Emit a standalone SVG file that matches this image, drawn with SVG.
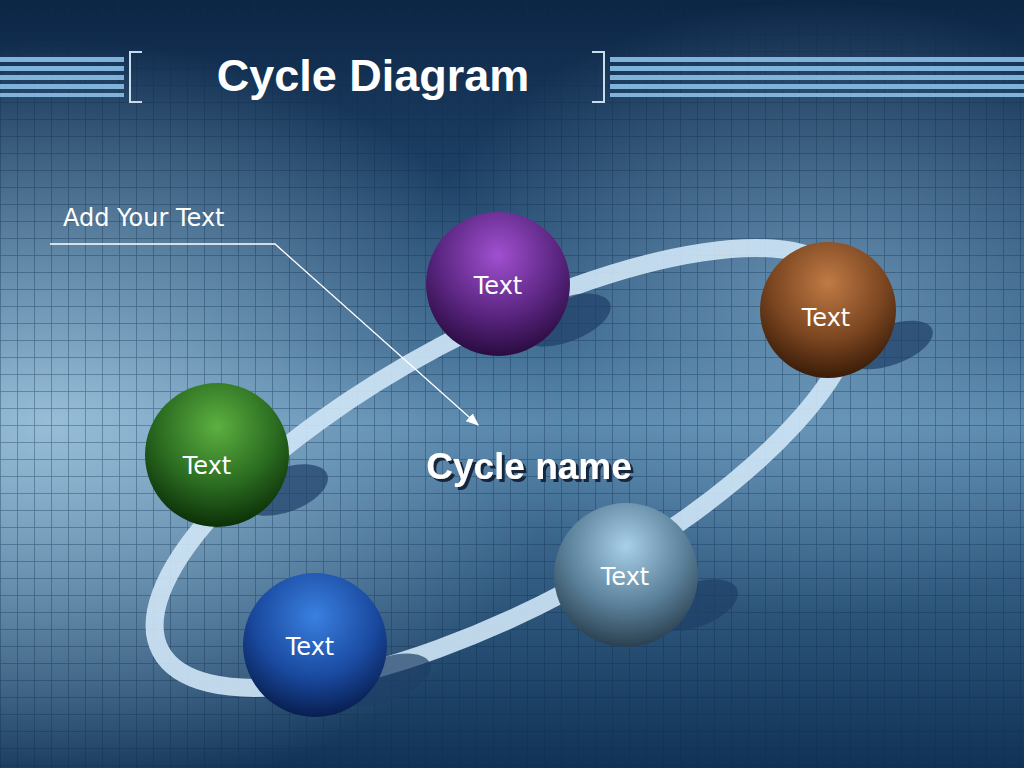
<svg xmlns="http://www.w3.org/2000/svg" width="1024" height="768" viewBox="0 0 1024 768">
<defs>
<style>
.lbl{font-family:"DejaVu Sans",sans-serif;font-size:24px;fill:#fff;text-anchor:middle}
.shadow{fill:#1e3f66;opacity:0.7}
.bar{fill:#7fb3d9}
</style>
<filter id="ds" x="-10%" y="-30%" width="120%" height="160%"><feDropShadow dx="3" dy="3" stdDeviation="0" flood-color="#14263c"/></filter>
<linearGradient id="bg" x1="0" y1="0" x2="0" y2="1">
<stop offset="0" stop-color="#0c2545"/><stop offset="0.45" stop-color="#2e5b84"/><stop offset="0.55" stop-color="#4f7fa6"/><stop offset="1" stop-color="#103256"/>
</linearGradient>
<radialGradient id="glowL" cx="0.05" cy="0.55" r="0.5"><stop offset="0" stop-color="#a9cde3" stop-opacity="0.8"/><stop offset="1" stop-color="#a9cde3" stop-opacity="0"/></radialGradient>
<radialGradient id="glowR" cx="0.8" cy="0.4" r="0.4"><stop offset="0" stop-color="#8fb8d4" stop-opacity="0.6"/><stop offset="1" stop-color="#8fb8d4" stop-opacity="0"/></radialGradient>
<pattern id="grid" width="17" height="17" patternUnits="userSpaceOnUse"><path d="M17 0H0V17" fill="none" stroke="#0d2b4c" stroke-opacity="0.45" stroke-width="1.5"/></pattern>
<radialGradient id="gP" cx="0.5" cy="0.3" r="0.7"><stop offset="0" stop-color="#a050d0"/><stop offset="0.6" stop-color="#5a2580"/><stop offset="1" stop-color="#2a0c40"/></radialGradient>
<radialGradient id="gB" cx="0.5" cy="0.3" r="0.7"><stop offset="0" stop-color="#c07a45"/><stop offset="0.6" stop-color="#7a4520"/><stop offset="1" stop-color="#3a1c08"/></radialGradient>
<radialGradient id="gG" cx="0.5" cy="0.3" r="0.7"><stop offset="0" stop-color="#5cb040"/><stop offset="0.6" stop-color="#2a6a20"/><stop offset="1" stop-color="#0c3008"/></radialGradient>
<radialGradient id="gN" cx="0.5" cy="0.3" r="0.7"><stop offset="0" stop-color="#3a80e0"/><stop offset="0.6" stop-color="#1a4aa0"/><stop offset="1" stop-color="#081e50"/></radialGradient>
<radialGradient id="gS" cx="0.5" cy="0.3" r="0.7"><stop offset="0" stop-color="#a8d0e8"/><stop offset="0.6" stop-color="#5a7f98"/><stop offset="1" stop-color="#2a4050"/></radialGradient>
<marker id="arr" markerWidth="10" markerHeight="8" refX="9" refY="4" orient="auto"><path d="M0 0L10 4L0 8z" fill="#fff"/></marker>
</defs>
<rect width="1024" height="768" fill="url(#bg)"/>
<rect width="1024" height="768" fill="url(#glowL)"/>
<rect width="1024" height="768" fill="url(#glowR)"/>
<rect width="1024" height="768" fill="url(#grid)"/>
<g id="title">
<rect class="bar" x="0" y="57" width="124" height="5"/><rect class="bar" x="0" y="66" width="124" height="5"/><rect class="bar" x="0" y="75" width="124" height="5"/><rect class="bar" x="0" y="84" width="124" height="5"/><rect class="bar" x="0" y="93" width="124" height="4"/>
<rect class="bar" x="610" y="57" width="414" height="5"/><rect class="bar" x="610" y="66" width="414" height="5"/><rect class="bar" x="610" y="75" width="414" height="5"/><rect class="bar" x="610" y="84" width="414" height="5"/><rect class="bar" x="610" y="93" width="414" height="4"/>
<path d="M142 52H130V102H142M592 52H604V102H592" fill="none" stroke="#c8dcec" stroke-width="2"/>
<text x="373" y="91" font-family="Liberation Sans,Arial,sans-serif" font-weight="bold" font-size="45" fill="#fff" text-anchor="middle">Cycle Diagram</text>
</g>
<g id="ring">
<ellipse cx="505" cy="468" rx="390" ry="138" transform="rotate(-28 505 468)" fill="none" stroke="#cfe6f6" stroke-width="18" opacity="0.9"/>
</g>
<g id="connectors">
<path d="M50 244H275L478 425" fill="none" stroke="#fff" stroke-width="1.3" marker-end="url(#arr)"/>
</g>
<text x="63" y="226" font-family="DejaVu Sans,sans-serif" font-size="24" fill="#fff">Add Your Text</text>
<g id="center"><text x="529" y="479" font-family="Liberation Sans,Arial,sans-serif" font-weight="700" font-size="37" fill="#fff" text-anchor="middle" filter="url(#ds)">Cycle name</text></g>
<g id="n1"><ellipse class="shadow" cx="565" cy="320" rx="48" ry="22" transform="rotate(-20 565 320)"/><circle cx="498" cy="284" r="72" fill="url(#gP)"/><text class="lbl" x="498" y="294">Text</text></g>
<g id="n2"><ellipse class="shadow" cx="890" cy="345" rx="45" ry="20" transform="rotate(-20 890 345)"/><circle cx="828" cy="310" r="68" fill="url(#gB)"/><text class="lbl" x="826" y="326">Text</text></g>
<g id="n3"><ellipse class="shadow" cx="285" cy="490" rx="45" ry="22" transform="rotate(-20 285 490)"/><circle cx="217" cy="455" r="72" fill="url(#gG)"/><text class="lbl" x="207" y="474">Text</text></g>
<g id="n4"><ellipse class="shadow" cx="385" cy="680" rx="48" ry="22" transform="rotate(-20 385 680)"/><circle cx="315" cy="645" r="72" fill="url(#gN)"/><text class="lbl" x="310" y="655">Text</text></g>
<g id="n5"><ellipse class="shadow" cx="695" cy="605" rx="45" ry="22" transform="rotate(-20 695 605)"/><circle cx="626" cy="575" r="72" fill="url(#gS)"/><text class="lbl" x="625" y="585">Text</text></g>
</svg>
